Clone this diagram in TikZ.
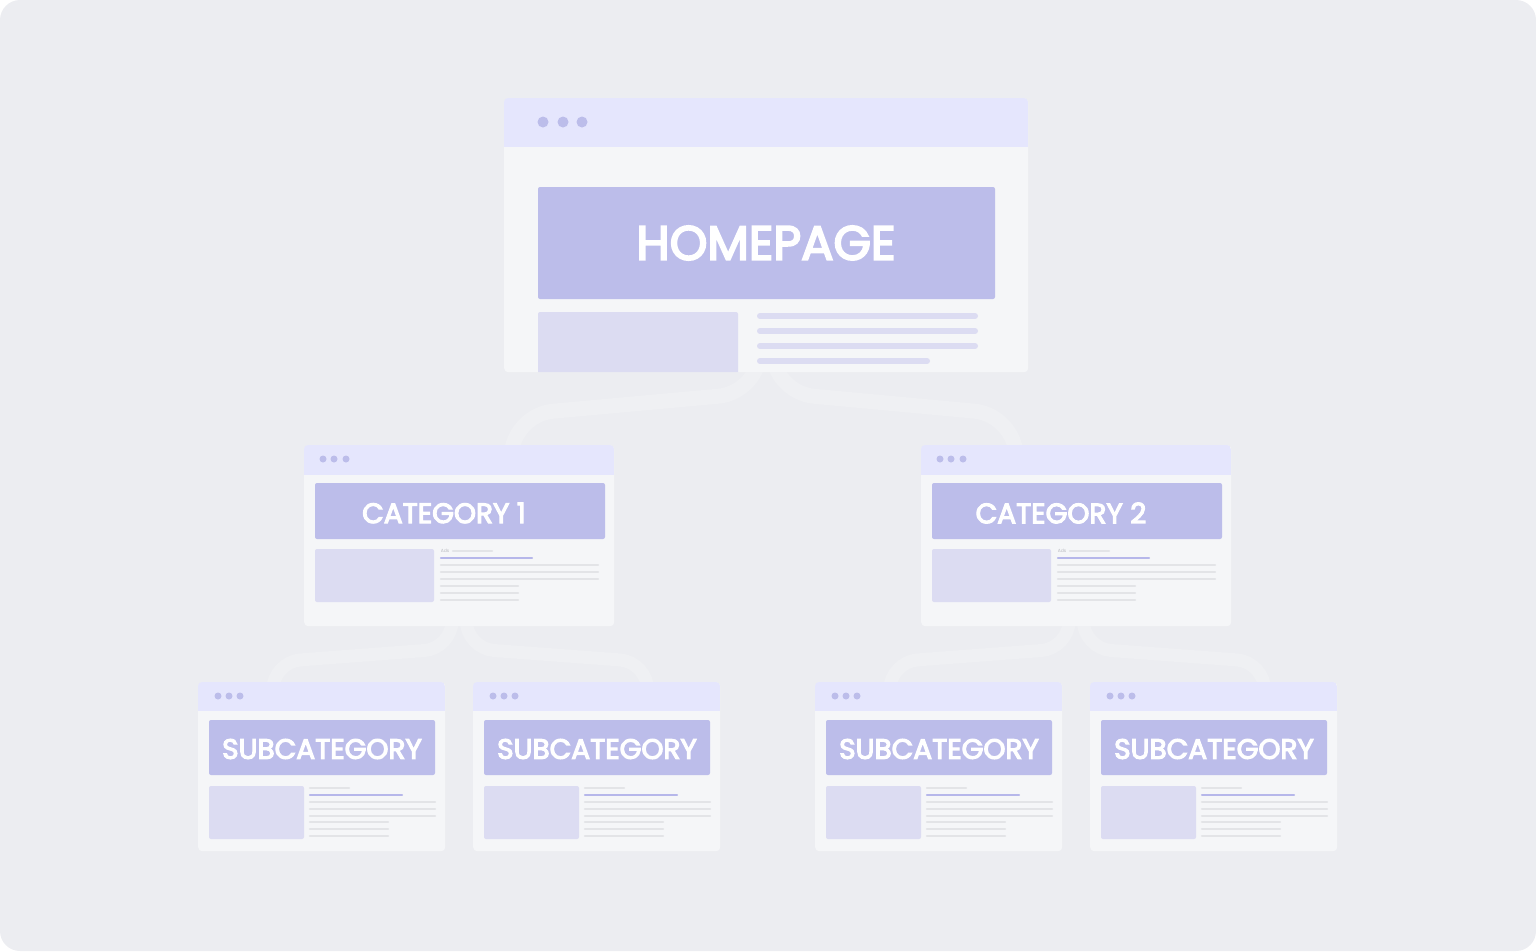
\documentclass[tikz,border=0pt]{standalone}
\usepackage{fontspec}
\setmainfont{Poppins}
\newfontfamily\lblfont{Poppins}[FakeBold=4]
\usetikzlibrary{calc}
\definecolor{bg}{HTML}{ECEDF1}
\definecolor{linkc}{HTML}{EFF0F3}
\definecolor{body}{HTML}{F5F6F8}
\definecolor{headbar}{HTML}{E5E6FD}
\definecolor{dotc}{HTML}{BCBDEA}
\definecolor{bannerc}{HTML}{BCBDEA}
\definecolor{imgc}{HTML}{DCDCF2}
\definecolor{lineg}{HTML}{E3E4E7}
\definecolor{linev}{HTML}{B6B7EA}
\definecolor{adsc}{HTML}{B9BAC0}
\newcommand{\homefont}{\lblfont\fontsize{48}{48}\selectfont}
\newcommand{\catfont}{\lblfont\fontsize{28}{28}\selectfont}
\pgfdeclarelayer{back}
\pgfsetlayers{back,main}
\tikzset{
  page/.style={fill=body, rounded corners=4pt, inner sep=0pt, anchor=north west},
  head/.style={fill=headbar},
  dot/.style={fill=dotc},
  banner/.style={fill=bannerc, rounded corners=2pt},
  imgbox/.style={fill=imgc, rounded corners=2pt},
  txt/.style={draw=lineg, line width=2.2pt, line cap=round},
  bigtxt/.style={draw=imgc, line width=6pt, line cap=round},
  lbl/.style={text=white, inner sep=0pt},
  ads/.style={text=adsc, inner sep=0pt, font=\fontsize{4.5}{4.5}\selectfont},
  link/.style={draw=linkc, line width=15pt, rounded corners=42pt},
  sublink/.style={draw=linkc, line width=13pt, rounded corners=28pt},
}

\begin{document}
\begin{tikzpicture}[x=1pt,y=-1pt]
  \useasboundingbox (0,0) rectangle (1536,951);

  % homepage
  \node[page, minimum width=524pt, minimum height=274pt] (home) at (504,98) {};
  \begin{scope}[shift={(home.north west)}]
    \clip[rounded corners=4pt] (0,0) rectangle (524,274);
    \fill[head] (0,0) rectangle (524,49);
    \foreach \d in {39,59,78} \fill[dot] (\d,24) circle (5.5pt);
    \fill[banner] (34,89) rectangle (491,201);
    \node[lbl, font=\homefont] (home-lbl) at (262,145) {HOMEPAGE};
    \fill[imgbox] (34,214) rectangle (234,290);
    \foreach \y in {218,233,248} \draw[bigtxt] (256,\y) -- (471,\y);
    \draw[bigtxt] (256,263) -- (423,263);
  \end{scope}

  % categories
  \foreach \n/\x/\t in {cat1/304/{CATEGORY 1}, cat2/921/{CATEGORY 2}} {
    \node[page, minimum width=310pt, minimum height=181pt] (\n) at (\x,445) {};
    \begin{scope}[shift={(\n.north west)}]
      \clip[rounded corners=4pt] (0,0) rectangle (310,181);
      \fill[head] (0,0) rectangle (310,30);
      \foreach \d in {19,30,42} \fill[dot] (\d,14) circle (3.5pt);
      \fill[banner] (11,38) rectangle (301,94);
      \node[lbl, font=\catfont] (\n-lbl) at (140,68) {\t};
      \fill[imgbox] (11,104) rectangle (130,157);
      \node[ads] (\n-ads) at (141,106) {Ads};
      \draw[txt] (149,106) -- (188,106);
      \draw[txt, draw=linev] (137,113) -- (228,113);
      \foreach \y in {120,127,134} \draw[txt] (137,\y) -- (294,\y);
      \foreach \y in {141,148,155} \draw[txt] (137,\y) -- (214,\y);
    \end{scope}
  }

  % subcategories
  \foreach \n/\x in {sub1/198, sub2/473, sub3/815, sub4/1090} {
    \node[page, minimum width=247pt, minimum height=169pt] (\n) at (\x,682) {};
    \begin{scope}[shift={(\n.north west)}]
      \clip[rounded corners=4pt] (0,0) rectangle (247,169);
      \fill[head] (0,0) rectangle (247,29);
      \foreach \d in {20,31,42} \fill[dot] (\d,14) circle (3.5pt);
      \fill[banner] (11,38) rectangle (237,93);
      \node[lbl, font=\catfont] (\n-lbl) at (124,67) {SUBCATEGORY};
      \fill[imgbox] (11,104) rectangle (106,157);
      \draw[txt] (112,106) -- (151,106);
      \draw[txt, draw=linev] (112,113) -- (204,113);
      \foreach \y in {120,127,134} \draw[txt] (112,\y) -- (237,\y);
      \foreach \y in {140,147,154} \draw[txt] (112,\y) -- (190,\y);
    \end{scope}
  }

  \begin{pgfonlayer}{back}
    \fill[bg, rounded corners=20pt] (0,0) rectangle (1536,951);
    % links
    \draw[link] ($(home.south)+(-6,-30)$) -- ($(home.south)+(-6,20)$)
      -- ($(cat1.north)+(52,-30)$) -- ($(cat1.north)+(52,20)$);
    \draw[link] ($(home.south)+(6,-30)$) -- ($(home.south)+(6,20)$)
      -- ($(cat2.north)+(-60,-30)$) -- ($(cat2.north)+(-60,20)$);
    \draw[sublink] ($(cat1.south)+(-7,-30)$) -- ($(cat1.south)+(-7,22)$)
      -- ($(sub1.north)+(-49,-20)$) -- ($(sub1.north)+(-49,30)$);
    \draw[sublink] ($(cat1.south)+(7,-30)$) -- ($(cat1.south)+(7,22)$)
      -- ($(sub2.north)+(51,-20)$) -- ($(sub2.north)+(51,30)$);
    \draw[sublink] ($(cat2.south)+(-7,-30)$) -- ($(cat2.south)+(-7,22)$)
      -- ($(sub3.north)+(-49,-20)$) -- ($(sub3.north)+(-49,30)$);
    \draw[sublink] ($(cat2.south)+(7,-30)$) -- ($(cat2.south)+(7,22)$)
      -- ($(sub4.north)+(51,-20)$) -- ($(sub4.north)+(51,30)$);
  \end{pgfonlayer}
\end{tikzpicture}
\end{document}
